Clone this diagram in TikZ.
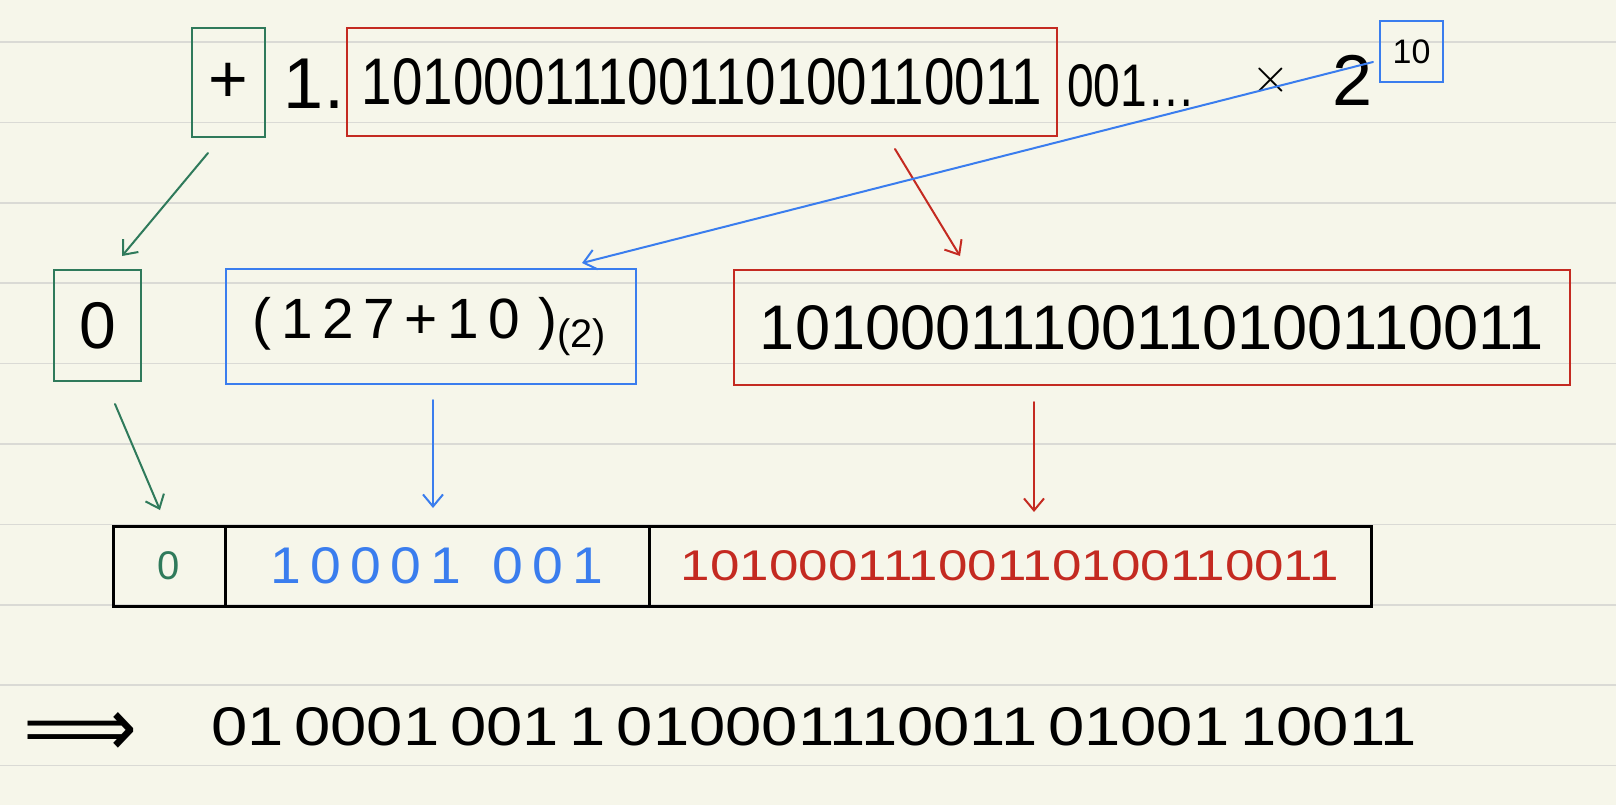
\documentclass[tikz,border=0pt]{standalone}
\usepackage{fontspec}
\setmainfont{Liberation Sans}
\newfontfamily\arrowfont{DejaVu Sans}
\usepackage{graphicx}
\usetikzlibrary{arrows.meta}

\definecolor{paperbg}{HTML}{F6F6EA}
\definecolor{ruleline}{HTML}{DADAD5}
\definecolor{sgngreen}{HTML}{2F7A5B}
\definecolor{expblue}{HTML}{3A7DEE}
\definecolor{fracred}{HTML}{C42A21}

\newcommand{\hw}[3]{\resizebox{#1}{#2}{#3}}

\begin{document}
\begin{tikzpicture}[x=0.5pt, y=-0.5pt,
  every node/.style={inner sep=0pt, outer sep=0pt},
  pen/.style={line width=1.2pt, line cap=round},
  cell/.style={draw=black, line width=1.5pt, minimum height=40pt},
  tip/.style={-{Straight Barb[length=6pt, width=10pt, line width=1pt]}, line width=1pt, line cap=round}]
\useasboundingbox (0,0) rectangle (1616,805);
\fill[paperbg] (0,0) rectangle (1616,805);
\foreach \k in {0,...,9}
  \draw[ruleline, line width=0.8pt] (0,42+80.4*\k) -- (1616,42+80.4*\k);

% top line: +1.xxx x 2^10
\node[draw=sgngreen, pen, minimum width=36.5pt, minimum height=54.5pt, font=\fontsize{34}{34}\selectfont] (plusbox) at (228.5,82.5) {+};
\node[font=\fontsize{36}{36}\selectfont] (lead) at (314,84) {1.};
\node[draw=fracred, pen, minimum width=355pt, minimum height=54pt] (topfrac) at (702,82) {\hw{340pt}{23pt}{10100011100110100110011}};
\node (rest) at (1131,86) {\hw{64pt}{21pt}{001\ldots}};
\node[font=\fontsize{42}{42}\selectfont] (times) at (1271,80) {$\times$};
\node[font=\fontsize{36}{36}\selectfont] (two) at (1353,80) {2};
\node[draw=expblue, pen, minimum width=31.5pt, minimum height=30.5pt, font=\fontsize{17}{17}\selectfont] (expbox) at (1411.5,51.5) {10};

% middle line
\node[draw=sgngreen, pen, minimum width=43.5pt, minimum height=55.5pt, font=\fontsize{33}{33}\selectfont] (signbox) at (97.5,325.5) {0};
\node[draw=expblue, pen, minimum width=205pt, minimum height=57.5pt] (biasbox) at (431,326.5) {\hw{178pt}{!}{(\,1\,2\,7\,+\,1\,0\,\,)\textsubscript{(2)}}};
\node[draw=fracred, pen, minimum width=418pt, minimum height=57.5pt] (fracbox) at (1152,327.5) {\hw{392pt}{22pt}{10100011100110100110011}};

% register
\node[cell, minimum width=56pt, text=sgngreen, font=\fontsize{20}{20}\selectfont] (signcell) at (169,566) {0};
\node[cell, minimum width=212pt, text=expblue] (expcell) at (437,566) {\hw{166pt}{18pt}{1\,0\,0\,0\,1\ \ 0\,0\,1}};
\node[cell, minimum width=361pt, text=fracred] (fraccell) at (1010,566) {\hw{329pt}{15pt}{10100011100110100110011}};

% result
\node (implies) at (80,734) {\resizebox*{57pt}{22pt}{\arrowfont ⟹}};
\node (result) at (814,727) {\hw{603pt}{19pt}{01\,0001\,001\,1\,010001110011\,01001\,10011}};

% arrows
\coordinate (g1) at (208,153);
\coordinate (g2) at (122,256);
\coordinate (r1) at (895,149);
\coordinate (r2) at (960,256);
\coordinate (b1) at (1373,62);
\coordinate (b2) at (582,263);
\coordinate (g3) at (115,404);
\coordinate (g4) at (160,510);
\coordinate (b3) at (433,400);
\coordinate (b4) at (433,508);
\coordinate (r3) at (1034,402);
\coordinate (r4) at (1034,512);
\draw[tip, sgngreen] (g1) -- (g2);
\draw[tip, fracred] (r1) -- (r2);
\draw[tip, expblue] (b1) -- (b2);
\draw[tip, sgngreen] (g3) -- (g4);
\draw[tip, expblue] (b3) -- (b4);
\draw[tip, fracred] (r3) -- (r4);
\end{tikzpicture}
\end{document}
